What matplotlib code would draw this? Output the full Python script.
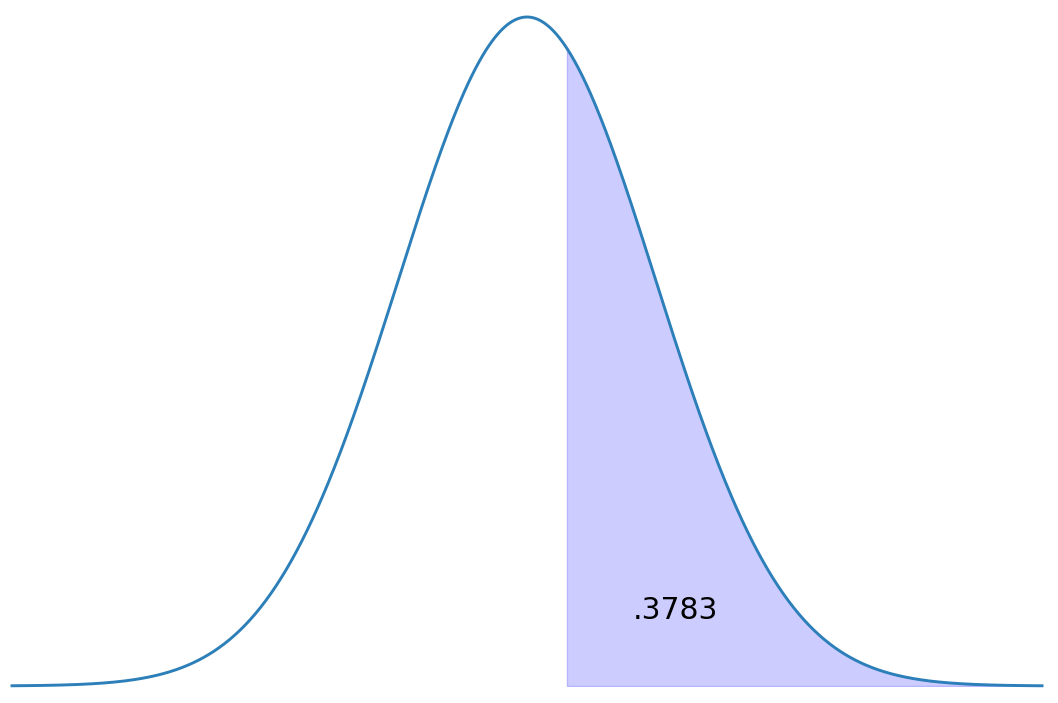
import numpy as np
import matplotlib
matplotlib.use("Agg")
import matplotlib.pyplot as plt

# standard normal, right tail beyond z
mean = 0.0
sd = 1.0
x_min, x_max = -4.0, 4.0
z_cut = 0.31
tail_label = ".3783"

x = np.linspace(x_min, x_max, 801)
y = np.exp(-0.5 * ((x - mean) / sd) ** 2) / (sd * np.sqrt(2 * np.pi))

fig = plt.figure(figsize=(10.58, 7.03), dpi=100)
ax = fig.add_axes([12 / 1058, (703 - 686) / 703, 1030 / 1058, 669 / 703])

ax.plot(x, y, color="#2c7fb8", lw=2.1, clip_on=False)
mask = x >= z_cut
ax.fill_between(x[mask], 0, y[mask], color="blue", alpha=0.2)
ax.text(1.15, 0.045, tail_label, fontsize=21.5, ha="center", va="center")

ax.set_xlim(x_min, x_max)
ax.set_ylim(0, y.max())
ax.axis("off")

fig.savefig("out.png", dpi=100)
